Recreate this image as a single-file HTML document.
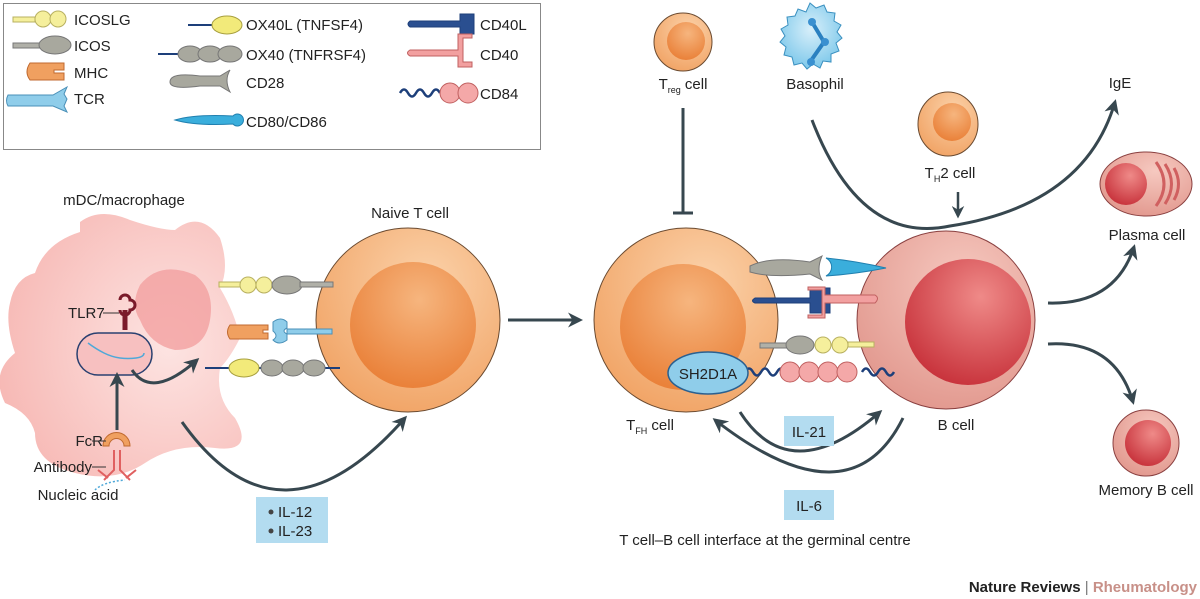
<!DOCTYPE html>
<html><head><meta charset="utf-8"><style>
html,body{margin:0;padding:0;background:#fff}
svg{display:block}
text{font-family:"Liberation Sans",sans-serif;fill:#222}
</style></head><body>
<svg width="1200" height="599" viewBox="0 0 1200 599" xmlns="http://www.w3.org/2000/svg">
<defs>
<radialGradient id="og" cx="0.6" cy="0.3" r="0.8"><stop offset="0" stop-color="#fbd2aa"/><stop offset="1" stop-color="#f0a060"/></radialGradient>
<radialGradient id="oi" cx="0.55" cy="0.3" r="0.8"><stop offset="0" stop-color="#f6b57e"/><stop offset="1" stop-color="#e87a30"/></radialGradient>
<radialGradient id="rg" cx="0.6" cy="0.3" r="0.8"><stop offset="0" stop-color="#f6c9c0"/><stop offset="1" stop-color="#e0948a"/></radialGradient>
<radialGradient id="ri" cx="0.6" cy="0.3" r="0.8"><stop offset="0" stop-color="#ef8a88"/><stop offset="1" stop-color="#c42a34"/></radialGradient>
<radialGradient id="pk" cx="0.7" cy="0.5" r="0.8"><stop offset="0" stop-color="#fde4e2"/><stop offset="1" stop-color="#f6b4b0"/></radialGradient>
<radialGradient id="bg" cx="0.5" cy="0.4" r="0.7"><stop offset="0" stop-color="#d8effa"/><stop offset="1" stop-color="#6fc2e8"/></radialGradient>
<marker id="ah" viewBox="0 0 10 10" refX="8" refY="5" markerWidth="5" markerHeight="5" orient="auto"><path d="M0,0 L10,5 L0,10 L3,5 z" fill="#37474f"/></marker>
</defs>

<!-- legend -->
<rect x="3.5" y="3.5" width="537" height="146" fill="#fff" stroke="#888"/>
<g font-size="15">
<rect x="13" y="17" width="22" height="5" fill="#f5ef9c" stroke="#b8b060"/>
<circle cx="43" cy="19" r="8" fill="#f5ef9c" stroke="#b8b060"/><circle cx="58" cy="19" r="8" fill="#f5ef9c" stroke="#b8b060"/>
<text x="74" y="25">ICOSLG</text>
<rect x="13" y="43" width="28" height="5" fill="#b0b0a8" stroke="#777"/>
<ellipse cx="55" cy="45" rx="16" ry="9" fill="#a8a89e" stroke="#777"/>
<text x="74" y="51">ICOS</text>
<path d="M30,63 h34 v7 h-10 v3 h10 v7 h-34 q-6,-8 0,-17z" fill="#f0a060" stroke="#c06a30"/>
<text x="74" y="78">MHC</text>
<path d="M8,95 h45 l14,-8 -3,7 3,5 -3,7 3,6 -14,-6 h-45 q-3,-5 0,-11z" fill="#8fcdea" stroke="#4a90b8"/>
<text x="74" y="104">TCR</text>
<line x1="188" y1="25" x2="213" y2="25" stroke="#1d3f7a" stroke-width="2"/>
<ellipse cx="227" cy="25" rx="15" ry="9" fill="#f2ea7a" stroke="#a8a040"/>
<text x="246" y="30">OX40L (TNFSF4)</text>
<line x1="158" y1="54" x2="180" y2="54" stroke="#1d3f7a" stroke-width="2"/>
<ellipse cx="190" cy="54" rx="12" ry="8" fill="#a8a89e" stroke="#777"/><ellipse cx="210" cy="54" rx="12" ry="8" fill="#a8a89e" stroke="#777"/><ellipse cx="230" cy="54" rx="12" ry="8" fill="#a8a89e" stroke="#777"/>
<text x="246" y="60">OX40 (TNFRSF4)</text>
<path d="M170,82 q0,-10 30,-6 l20,0 l10,-6 q-6,10 0,22 l-10,-6 l-20,0 q-30,4 -30,-4z" fill="#a8a89e" stroke="#777"/>
<text x="246" y="88">CD28</text>
<path d="M175,120 q20,-6 58,-4 a6,6 0 1 1 0,8 q-38,2 -58,-4z" fill="#3aaedc" stroke="#2080b0"/>
<text x="246" y="127">CD80/CD86</text>
<path d="M410,21 h50 v-7 h14 v20 h-14 v-7 h-50 q-4,-3 0,-6z" fill="#2a4f90" stroke="#1d3f7a"/>
<text x="480" y="30">CD40L</text>
<path d="M410,50 h48 v-16 h14 v4 h-9 v24 h9 v5 h-14 v-11 h-48 q-5,-3 0,-6z" fill="#f2a0a0" stroke="#c06060"/>
<text x="480" y="60">CD40</text>
<path d="M400,93 q4,-7 8,0 t8,0 t8,0 t8,0 t8,0" fill="none" stroke="#1d3f7a" stroke-width="2.5"/>
<circle cx="450" cy="93" r="10" fill="#f4a8a8" stroke="#c06060"/><circle cx="468" cy="93" r="10" fill="#f4a8a8" stroke="#c06060"/>
<text x="480" y="99">CD84</text>
</g>

<!-- mDC -->
<text x="124" y="205" font-size="15" text-anchor="middle">mDC/macrophage</text>
<path d="M80,222 q20,-15 50,-2 q30,10 45,10 q25,-20 45,8 q10,30 0,50 q15,25 20,50 q-10,20 -20,30 q-5,30 15,50 q20,35 -20,30 q-40,-5 -70,15 q-30,20 -70,10 q-40,-10 -40,-40 q-5,-20 -30,-30 q-15,-30 10,-50 q-10,-30 -5,-50 q5,-25 25,-30 q10,-30 45,-41z" fill="url(#pk)"/>
<path d="M140,285 q20,-25 55,-10 q20,15 15,45 q-5,30 -35,30 q-25,-5 -35,-30 q-10,-15 0,-35z" fill="#f2a0a0" opacity="0.8"/>
<rect x="77" y="333" width="75" height="42" rx="21" fill="#f7c0c0" stroke="#2a4070" stroke-width="1.5"/>
<path d="M88,343 q8,6 16,10 t16,5 t16,0 t8,-5" fill="none" stroke="#4fa8d8" stroke-width="1.5"/>
<path d="M125,310 v20" stroke="#7a1a2a" stroke-width="5"/>
<path d="M120,300 a5,5 0 1 1 10,0 a5,5 0 1 1 0,10 a5,5 0 1 1 -10,0" fill="none" stroke="#7a1a2a" stroke-width="3"/>
<text x="68" y="318" font-size="15">TLR7</text>
<line x1="103" y1="313" x2="119" y2="313" stroke="#333"/>
<line x1="117" y1="430" x2="117" y2="375" stroke="#37474f" stroke-width="3" marker-end="url(#ah)"/>
<path d="M132,370 q20,30 65,-10" fill="none" stroke="#37474f" stroke-width="3" marker-end="url(#ah)"/>
<path d="M103,446 a13,13 0 0 1 27,0 h-6 a7,7 0 0 0 -15,0z" fill="#f0a060" stroke="#c06a30"/>
<path d="M114,450 v20 l-10,10 M120,450 v20 l10,10" fill="none" stroke="#e06060" stroke-width="2"/>
<path d="M98,470 l10,8 M136,470 l-10,8" stroke="#e06060" stroke-width="2"/>
<path d="M95,490 q8,-8 30,-10" fill="none" stroke="#4fa8d8" stroke-width="1.5" stroke-dasharray="2,2"/>
<text x="103" y="446" font-size="15" text-anchor="end">FcR</text>
<line x1="92" y1="441" x2="106" y2="441" stroke="#333"/>
<text x="92" y="472" font-size="15" text-anchor="end">Antibody</text>
<line x1="92" y1="467" x2="106" y2="467" stroke="#333"/>
<text x="78" y="500" font-size="15" text-anchor="middle">Nucleic acid</text>

<!-- naive T -->
<text x="410" y="218" font-size="15" text-anchor="middle">Naive T cell</text>
<circle cx="408" cy="320" r="92" fill="url(#og)" stroke="#6a4a30" stroke-width="1"/>
<circle cx="413" cy="325" r="63" fill="url(#oi)"/>
<rect x="219" y="282" width="22" height="5" fill="#f5ef9c" stroke="#b8b060"/>
<circle cx="248" cy="285" r="8" fill="#f5ef9c" stroke="#b8b060"/><circle cx="264" cy="285" r="8" fill="#f5ef9c" stroke="#b8b060"/>
<ellipse cx="287" cy="285" rx="15" ry="9" fill="#a8a89e" stroke="#777"/>
<rect x="300" y="282" width="33" height="5" fill="#b0b0a8" stroke="#777"/>
<path d="M230,325 h38 v5 h-5 v3 h5 v6 h-38 q-5,-7 0,-14z" fill="#f0a060" stroke="#c06a30"/>
<path d="M273,322 q8,-6 14,0 l0,6 q-6,3 0,6 l0,6 q-8,6 -14,0 q6,-4 0,-9z M287,329 h45 v5 h-45z" fill="#8fcdea" stroke="#4a90b8"/>
<line x1="205" y1="368" x2="340" y2="368" stroke="#1d3f7a" stroke-width="2"/>
<ellipse cx="244" cy="368" rx="15" ry="9" fill="#f2ea7a" stroke="#a8a040"/>
<ellipse cx="272" cy="368" rx="11" ry="8" fill="#a8a89e" stroke="#777"/><ellipse cx="293" cy="368" rx="11" ry="8" fill="#a8a89e" stroke="#777"/><ellipse cx="314" cy="368" rx="11" ry="8" fill="#a8a89e" stroke="#777"/>
<path d="M182,422 Q280,560 405,418" fill="none" stroke="#37474f" stroke-width="3" marker-end="url(#ah)"/>
<rect x="256" y="497" width="72" height="46" fill="#b3dcf0"/>
<circle cx="271" cy="512" r="2.5" fill="#444"/><circle cx="271" cy="531" r="2.5" fill="#444"/>
<text x="278" y="517" font-size="15">IL-12</text><text x="278" y="536" font-size="15">IL-23</text>

<line x1="508" y1="320" x2="580" y2="320" stroke="#37474f" stroke-width="3" marker-end="url(#ah)"/>

<!-- top right -->
<ellipse cx="683" cy="42" rx="29" ry="29" fill="url(#og)" stroke="#6a4a30"/>
<circle cx="686" cy="41" r="19" fill="url(#oi)"/>
<text x="683" y="89" font-size="15" text-anchor="middle">T<tspan font-size="9" dy="4">reg</tspan><tspan dy="-4"> cell</tspan></text>
<line x1="683" y1="108" x2="683" y2="213" stroke="#37474f" stroke-width="3"/>
<line x1="673" y1="213" x2="693" y2="213" stroke="#37474f" stroke-width="3"/>
<path d="M810,3 l6,5 8,-3 3,7 8,1 -1,8 7,4 -4,7 5,6 -6,5 3,8 -8,3 0,8 -8,-1 -3,7 -7,-4 -6,5 -5,-6 -8,2 -2,-8 -8,-2 2,-8 -6,-5 5,-6 -4,-7 7,-4 -1,-8 8,-1 3,-7 8,3z" fill="url(#bg)" stroke="#3a90c0"/>
<path d="M812,22 l12,20 -14,20" fill="none" stroke="#2a80c0" stroke-width="4"/>
<circle cx="812" cy="22" r="4" fill="#3a90d0"/><circle cx="825" cy="42" r="4" fill="#3a90d0"/><circle cx="811" cy="62" r="4" fill="#3a90d0"/>
<text x="815" y="89" font-size="15" text-anchor="middle">Basophil</text>
<ellipse cx="948" cy="124" rx="30" ry="32" fill="url(#og)" stroke="#6a4a30"/>
<circle cx="952" cy="122" r="19" fill="url(#oi)"/>
<text x="950" y="178" font-size="15" text-anchor="middle">T<tspan font-size="9" dy="4">H</tspan><tspan dy="-4">2 cell</tspan></text>
<line x1="958" y1="192" x2="958" y2="216" stroke="#37474f" stroke-width="2.5" marker-end="url(#ah)"/>
<path d="M812,120 Q860,245 950,226 Q1085,205 1115,102" fill="none" stroke="#37474f" stroke-width="3" marker-end="url(#ah)"/>
<text x="1120" y="88" font-size="15" text-anchor="middle">IgE</text>
<ellipse cx="1146" cy="184" rx="46" ry="32" fill="url(#rg)" stroke="#8a4040"/>
<circle cx="1126" cy="184" r="21" fill="url(#ri)"/>
<path d="M1156,162 q16,22 0,44 M1165,164 q13,20 0,40 M1174,168 q9,16 0,32" fill="none" stroke="#d06060" stroke-width="3"/>
<text x="1147" y="240" font-size="15" text-anchor="middle">Plasma cell</text>
<path d="M1048,303 Q1115,305 1134,247" fill="none" stroke="#37474f" stroke-width="3" marker-end="url(#ah)"/>
<path d="M1048,344 Q1115,340 1133,402" fill="none" stroke="#37474f" stroke-width="3" marker-end="url(#ah)"/>
<circle cx="1146" cy="443" r="33" fill="url(#rg)" stroke="#8a4040"/>
<circle cx="1148" cy="443" r="23" fill="url(#ri)"/>
<text x="1146" y="495" font-size="15" text-anchor="middle">Memory B cell</text>

<!-- TFH and B -->
<circle cx="686" cy="320" r="92" fill="url(#og)" stroke="#6a4a30"/>
<circle cx="683" cy="327" r="63" fill="url(#oi)"/>
<circle cx="946" cy="320" r="89" fill="url(#rg)" stroke="#8a4040"/>
<circle cx="968" cy="322" r="63" fill="url(#ri)"/>
<path d="M750,266 q20,-10 60,-4 l12,-6 q-6,14 0,24 l-12,-6 q-40,4 -60,-2z" fill="#a8a89e" stroke="#777"/>
<path d="M826,258 a10,10 0 0 1 0,18 q30,-2 60,-8 q-30,-7 -60,-10z" fill="#3aaedc" stroke="#2080b0"/>
<path d="M755,298 h55 v-10 h20 v25 h-20 v-10 h-55 q-5,-2 0,-5z" fill="#2a4f90" stroke="#1d3f7a"/>
<path d="M808,287 h17 v8 h50 q5,3 0,8 h-50 v15 h-17 v-3 h14 v-25 h-14z" fill="#f2a0a0" stroke="#c06060"/>
<rect x="760" y="343" width="30" height="5" fill="#b0b0a8" stroke="#777"/>
<ellipse cx="800" cy="345" rx="14" ry="9" fill="#a8a89e" stroke="#777"/>
<circle cx="823" cy="345" r="8" fill="#f5ef9c" stroke="#b8b060"/><circle cx="840" cy="345" r="8" fill="#f5ef9c" stroke="#b8b060"/>
<rect x="848" y="342" width="26" height="5" fill="#f5ef9c" stroke="#b8b060"/>
<path d="M745,372 q4,-7 8,0 t8,0 t8,0 t8,0 t8,0 M862,372 q4,-7 8,0 t8,0 t8,0 t8,0" fill="none" stroke="#1d3f7a" stroke-width="2.5"/>
<circle cx="790" cy="372" r="10" fill="#f4a8a8" stroke="#c06060"/><circle cx="809" cy="372" r="10" fill="#f4a8a8" stroke="#c06060"/><circle cx="828" cy="372" r="10" fill="#f4a8a8" stroke="#c06060"/><circle cx="847" cy="372" r="10" fill="#f4a8a8" stroke="#c06060"/>
<ellipse cx="708" cy="373" rx="40" ry="21" fill="#8fcdea" stroke="#2a6090" stroke-width="1.5"/>
<text x="708" y="379" font-size="15" text-anchor="middle">SH2D1A</text>
<text x="650" y="430" font-size="15" text-anchor="middle">T<tspan font-size="9" dy="4">FH</tspan><tspan dy="-4"> cell</tspan></text>
<text x="956" y="430" font-size="15" text-anchor="middle">B cell</text>
<path d="M740,412 Q790,490 880,412" fill="none" stroke="#37474f" stroke-width="3" marker-end="url(#ah)"/>
<path d="M903,418 Q850,525 715,420" fill="none" stroke="#37474f" stroke-width="3" marker-end="url(#ah)"/>
<rect x="784" y="416" width="50" height="30" fill="#b3dcf0"/>
<text x="809" y="437" font-size="15" text-anchor="middle">IL-21</text>
<rect x="784" y="490" width="50" height="30" fill="#b3dcf0"/>
<text x="809" y="511" font-size="15" text-anchor="middle">IL-6</text>
<text x="765" y="545" font-size="15" text-anchor="middle">T cell–B cell interface at the germinal centre</text>
<text x="1197" y="592" font-size="15" text-anchor="end" font-weight="bold">Nature Reviews <tspan font-weight="normal" fill="#777">|</tspan> <tspan fill="#c89088">Rheumatology</tspan></text>
</svg>
</body></html>
